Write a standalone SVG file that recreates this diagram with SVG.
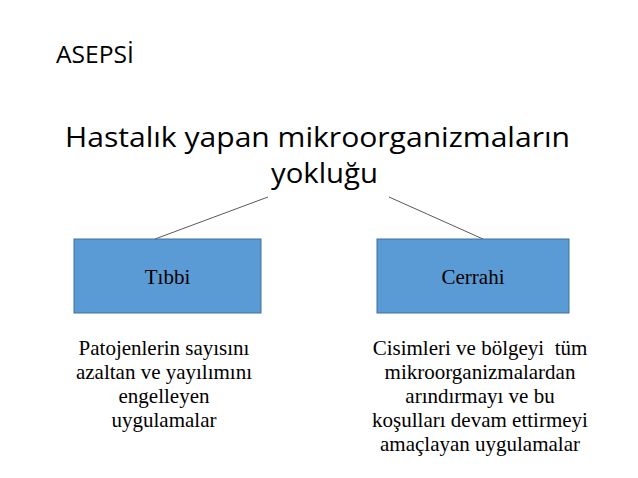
<svg xmlns="http://www.w3.org/2000/svg" width="638" height="478" viewBox="0 0 638 478">
<style>
.sans{font-family:"Open Sans","Noto Sans","Liberation Sans",sans-serif;fill:#000}
.serif{font-family:"Liberation Serif","Times New Roman",serif;font-weight:normal;fill:#000;text-anchor:middle}
.box{fill:#5B9BD5;stroke:#41719C;stroke-width:1}
.conn{stroke:#595959;stroke-width:1;fill:none}
</style>
<rect width="638" height="478" fill="#fff"/>
<g id="header">
<text class="sans" x="56" y="63" font-size="24" textLength="78" lengthAdjust="spacingAndGlyphs">ASEPSİ</text>
</g>
<g id="root">
<text class="sans" x="65" y="147" font-size="28" textLength="505" lengthAdjust="spacingAndGlyphs">Hastalık yapan mikroorganizmaların</text>
<text class="sans" x="271" y="183" font-size="28" textLength="107" lengthAdjust="spacingAndGlyphs">yokluğu</text>
</g>
<g id="connectors">
<line class="conn" x1="155" y1="239" x2="268" y2="197"/>
<line class="conn" x1="389" y1="197" x2="483" y2="239"/>
</g>
<g id="tibbi">
<rect class="box" x="74" y="239" width="187" height="74"/>
<text class="serif" x="167.5" y="284" font-size="21">Tıbbi</text>
</g>
<g id="cerrahi">
<rect class="box" x="377" y="239" width="192" height="74"/>
<text class="serif" x="473" y="284" font-size="21">Cerrahi</text>
</g>
<g id="tibbi-desc">
<text class="serif" x="164" y="355" font-size="21">Patojenlerin sayısını</text>
<text class="serif" x="164" y="379" font-size="21">azaltan ve yayılımını</text>
<text class="serif" x="164" y="403" font-size="21">engelleyen</text>
<text class="serif" x="164" y="427" font-size="21">uygulamalar</text>
</g>
<g id="cerrahi-desc">
<text class="serif" x="480" y="355" font-size="21">Cisimleri ve bölgeyi&#160; tüm</text>
<text class="serif" x="480" y="379" font-size="21">mikroorganizmalardan</text>
<text class="serif" x="480" y="403" font-size="21">arındırmayı ve bu</text>
<text class="serif" x="480" y="427" font-size="21">koşulları devam ettirmeyi</text>
<text class="serif" x="480" y="451" font-size="21">amaçlayan uygulamalar</text>
</g>
</svg>
